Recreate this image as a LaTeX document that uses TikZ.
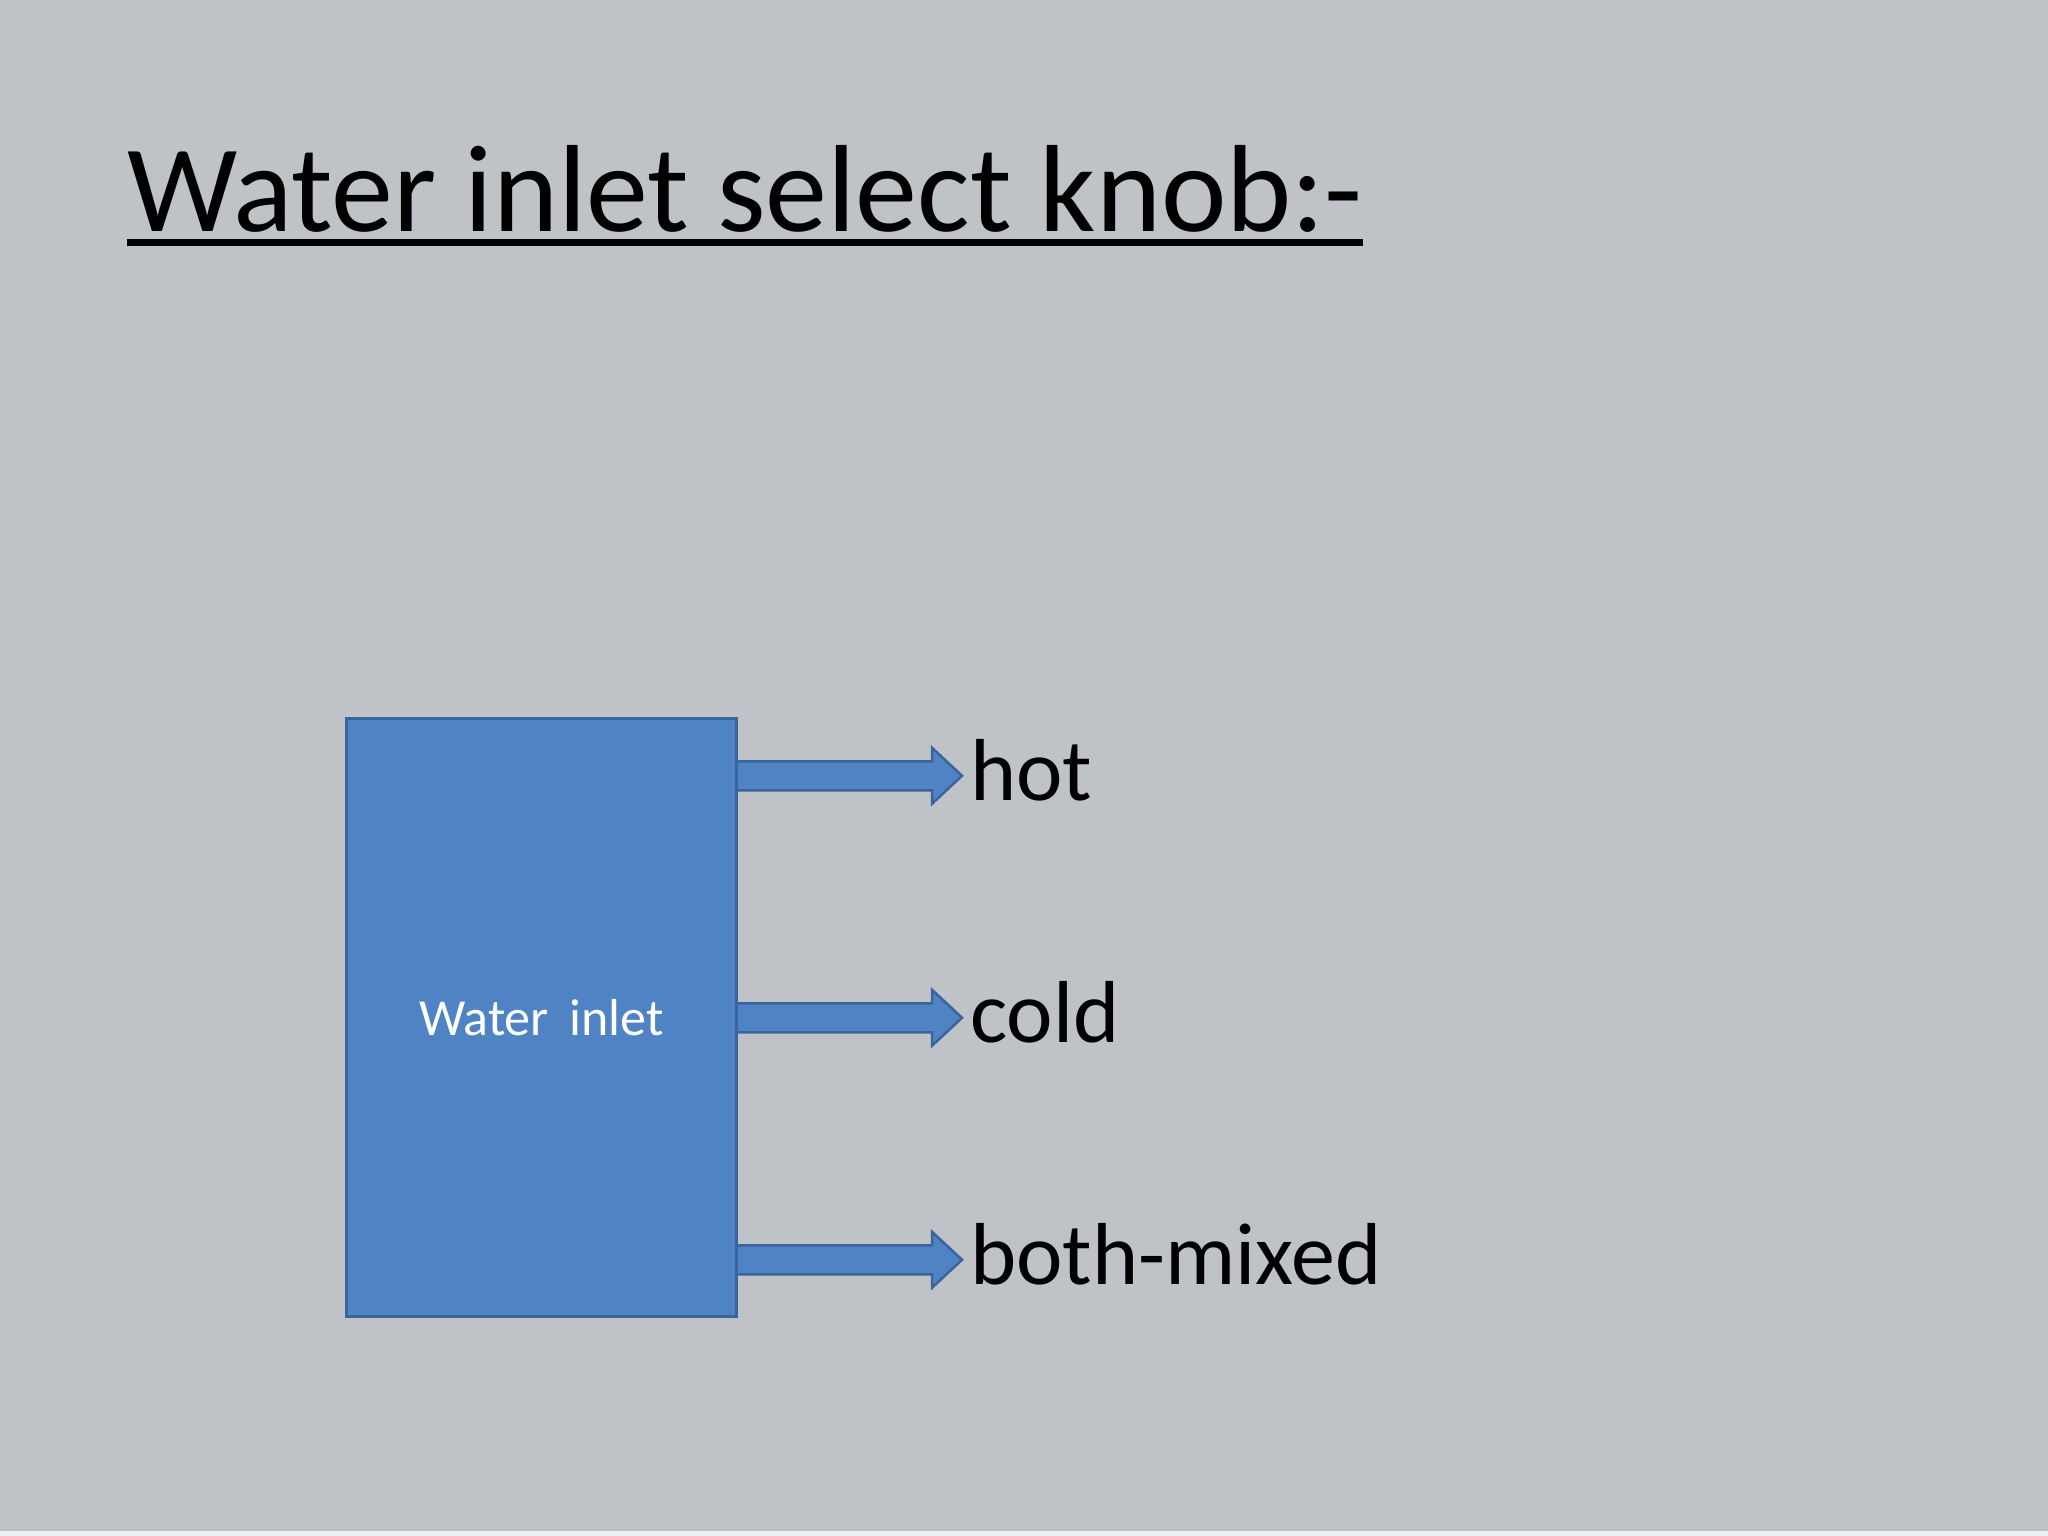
\documentclass[tikz,border=0pt]{standalone}
\usepackage{fontspec}
\setmainfont{Carlito}
\usetikzlibrary{calc}
\definecolor{bg}{RGB}{191,194,199}
\definecolor{boxfill}{RGB}{80,131,196}
\definecolor{boxline}{RGB}{58,100,158}
\begin{document}
\begin{tikzpicture}[x=1pt,y=-1pt,
  titletext/.style={inner sep=0pt, font=\fontsize{124}{130}\selectfont, text=black},
  labtext/.style={inner sep=0pt, font=\fontsize{88}{92}\selectfont, text=black, anchor=base west},
  inletbox/.style={draw=boxline, line width=3pt, fill=boxfill, inner sep=0pt,
    minimum width=390pt, minimum height=598pt, anchor=north west,
    text=white, font=\fontsize{52}{56}\selectfont},
  blockarrow/.style={draw=boxline, line width=2.5pt, fill=boxfill, line join=miter}]
\fill[bg] (0,0) rectangle (2048,1536);
\useasboundingbox (0,0) rectangle (2048,1536);
\fill[white!75!bg] (0,1531) rectangle (2048,1536);
% title
\node[titletext, anchor=base west] (title) at (127,231) {Water inlet select knob:-};
\draw[line width=7pt] ($(title.base west)+(0,11)$) -- ($(title.base east)+(0,11)$);
% labels
\node[labtext] (hot) at (970,800) {hot};
\node[labtext] (cold) at (970,1042) {cold};
\node[labtext] (mixed) at (970,1284) {both-mixed};
% arrows
\foreach \t in {hot,cold,mixed}{
  \draw[blockarrow] let \p1=(735,0), \p2=($(\t.west)+(0,6)$) in
    (\x1,\y2+14.5pt) -- (\x2-38pt,\y2+14.5pt) -- (\x2-38pt,\y2+28pt) -- (\x2-8pt,\y2)
    -- (\x2-38pt,\y2-28pt) -- (\x2-38pt,\y2-14.5pt) -- (\x1,\y2-14.5pt) -- cycle;
}
% box
\node[inletbox] (inlet) at (345,717) {Water\hspace{0.4em}inlet};
\end{tikzpicture}
\end{document}
